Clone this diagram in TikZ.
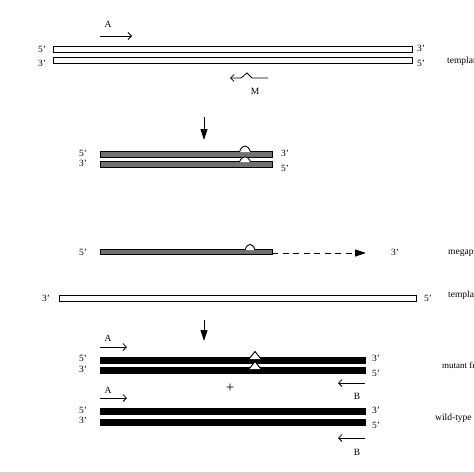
\documentclass[tikz,border=0pt]{standalone}
\usepackage{fontspec}
\setmainfont{Liberation Serif}
\usetikzlibrary{arrows.meta}
\definecolor{megagray}{RGB}{112,112,112}
\definecolor{bandgray}{RGB}{210,210,210}
\tikzset{
  lbl/.style={inner sep=0pt, font=\fontsize{9.5}{10}\selectfont},
  sidelbl/.style={inner sep=0pt, anchor=west, font=\fontsize{9.5}{10}\selectfont},
  whitebar/.style={draw=black, fill=white, line width=0.8pt},
  graybar/.style={draw=black, fill=megagray, line width=0.7pt},
  blackbar/.style={draw=black, fill=black, line width=0.5pt},
  primer/.style={line width=0.8pt, -{Straight Barb[length=3.5pt,width=7pt]}},
  downarrow/.style={line width=0.9pt, -{Triangle[length=11pt,width=7pt]}},
  bump/.style={line width=0.9pt, fill=white},
}
\begin{document}
\begin{tikzpicture}[x=1pt,y=-1pt]
\useasboundingbox (0,0) rectangle (474,474);
\clip (0,0) rectangle (474,474);
\fill[bandgray] (0,472) rectangle (474,474);

% ---------- template duplex ----------
\draw[whitebar] (53,46.5) rectangle (412,52);
\draw[whitebar] (53,57.5) rectangle (412,63);
\node[lbl] (t5a) at (42,49) {5'};
\node[lbl] (t3a) at (42,63) {3'};
\node[lbl] (t3b) at (421,48) {3'};
\node[lbl] (t5b) at (421,63) {5'};
\node[sidelbl] (tmpl1) at (447,61) {template};
% primer A
\coordinate (a1s) at (100,36);
\coordinate (a1e) at (132,36);
\draw[primer] (a1s) -- (a1e);
\node[lbl] (A1) at (108,24) {A};
% primer M
\coordinate (ms) at (268,78);
\coordinate (me) at (230,78);
\draw[line width=0.8pt, -{Straight Barb[length=3.5pt,width=7pt]}]
  (ms) -- (252,78) -- (247,73) -- (241,78) -- (me);
\node[lbl] (M) at (255,91) {M};

% ---------- arrow 1 ----------
\coordinate (d1s) at (204,117);
\coordinate (d1e) at (204,140);
\draw[downarrow] (d1s) -- (d1e);

% ---------- gray duplex ----------
\draw[graybar] (100,151) rectangle (272,157);
\draw[graybar] (100,161) rectangle (272,167);
\draw[bump] (239.5,152) .. controls (242,144) and (248,144) .. (250.5,152);
\draw[bump] (239.5,162) .. controls (242,155) and (248,155) .. (250.5,162);
\node[lbl] (g5a) at (83,153) {5'};
\node[lbl] (g3a) at (83,163) {3'};
\node[lbl] (g3b) at (285,153) {3'};
\node[lbl] (g5b) at (285,168) {5'};

% ---------- megaprimer ----------
\draw[graybar] (100,249) rectangle (272,254);
\draw[bump] (245,250) .. controls (247.5,242.5) and (252.5,242.5) .. (255,250);
\coordinate (mps) at (272,253);
\coordinate (mpe) at (366,253);
\draw[line width=1pt, dash pattern=on 6pt off 4.5pt, -{Triangle[length=11pt,width=7pt]}] (mps) -- (mpe);
\node[lbl] (mp5) at (83,252) {5'};
\node[lbl] (mp3) at (395,252) {3'};
\node[sidelbl] (mega) at (448,252) {megaprimer};

% ---------- template single strand ----------
\draw[whitebar] (59,295) rectangle (416,301);
\node[lbl] (ts3) at (46,298) {3'};
\node[lbl] (ts5) at (428,298) {5'};
\node[sidelbl] (tmpl2) at (448,295) {template};

% ---------- arrow 2 ----------
\coordinate (d2s) at (204,320);
\coordinate (d2e) at (204,341);
\draw[downarrow] (d2s) -- (d2e);

% ---------- mutant fragment ----------
\draw[blackbar] (100,357) rectangle (365,363);
\draw[blackbar] (100,367) rectangle (365,373);
\draw[bump] (249,359) -- (255,351.5) -- (261,359);
\draw[bump] (249,369) -- (255,361.5) -- (261,369);
\node[lbl] (m5a) at (83,358) {5'};
\node[lbl] (m3a) at (83,369) {3'};
\node[lbl] (m3b) at (376,358) {3'};
\node[lbl] (m5b) at (376,373) {5'};
\node[sidelbl, font=\fontsize{9}{9}\selectfont] (mut) at (442,366) {mutant fragment};
\coordinate (a2s) at (100,347);
\coordinate (a2e) at (127,347);
\draw[primer] (a2s) -- (a2e);
\node[lbl] (A2) at (108,338) {A};
\coordinate (b1s) at (365,383);
\coordinate (b1e) at (338,383);
\draw[primer] (b1s) -- (b1e);
\node[lbl] (B1) at (357,396) {B};

\node[inner sep=0pt, font=\fontsize{15}{15}\selectfont] (plus) at (230,388) {+};

% ---------- wild-type fragment ----------
\coordinate (a3s) at (100,398);
\coordinate (a3e) at (127,398);
\draw[primer] (a3s) -- (a3e);
\node[lbl] (A3) at (108,390) {A};
\draw[blackbar] (100,408) rectangle (365,414);
\draw[blackbar] (100,419) rectangle (365,425);
\node[lbl] (w5a) at (83,410) {5'};
\node[lbl] (w3a) at (83,420) {3'};
\node[lbl] (w3b) at (376,410) {3'};
\node[lbl] (w5b) at (376,425) {5'};
\node[sidelbl] (wt) at (435,418) {wild-type fragment};
\coordinate (b2s) at (365,438);
\coordinate (b2e) at (338,438);
\draw[primer] (b2s) -- (b2e);
\node[lbl] (B2) at (357,452) {B};
\end{tikzpicture}
\end{document}
